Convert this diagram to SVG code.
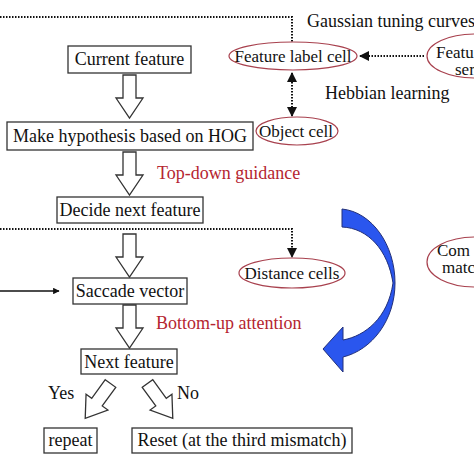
<svg xmlns="http://www.w3.org/2000/svg" width="474" height="474" viewBox="0 0 474 474">
<defs>
<style>
text{font-family:"Liberation Serif","Times New Roman",serif;font-size:18px;fill:#111}
.sm{font-size:17px}
.red{fill:#b52530}
.box{fill:#fff;stroke:#333;stroke-width:1.3}
.ell{fill:#fff;stroke:#a8414e;stroke-width:1.2}
.dot{fill:none;stroke:#111;stroke-width:2;stroke-dasharray:1.5 1.5}
.hol{fill:#fff;stroke:#333;stroke-width:1.3}
</style>
<path id="ha" d="M-6.5,0 H6.5 V23 H13.5 L0,43 L-13.5,23 H-6.5 Z"/>
<marker id="ah" viewBox="0 0 10 10" refX="9" refY="5" markerWidth="5" markerHeight="5" orient="auto-start-reverse"><path d="M0,0 L10,5 L0,10 Z" fill="#111"/></marker>
</defs>
<rect width="474" height="474" fill="#fff"/>
<g id="connectors">
<path class="dot" d="M0,17 H292 V42"/>
<path class="dot" d="M0,229 H292 V257" marker-end="url(#ah)"/>
<path class="dot" d="M424,56 H360" marker-end="url(#ah)"/>
<path class="dot" d="M292,73 V116" marker-start="url(#ah)" marker-end="url(#ah)"/>
<path d="M0,291 H59" stroke="#111" stroke-width="1.3" marker-end="url(#ah)"/>
<use href="#ha" class="hol" transform="translate(129.5,75)"/>
<use href="#ha" class="hol" transform="translate(129.5,152)"/>
<use href="#ha" class="hol" transform="translate(129.5,234)"/>
<use href="#ha" class="hol" transform="translate(129.5,305)"/>
<use href="#ha" class="hol" transform="translate(110.5,383.5) rotate(36)"/>
<use href="#ha" class="hol" transform="translate(147.5,383.5) rotate(-36)"/>
<path d="M342,209 C372,212 395,245 395,283 C395,320 372,350 343,357 L343,372 L323,349 L343,327 L343,340 C365,336 388,318 393,283 C388,250 368,228 342,227 Z" fill="#2a56ee" stroke="#22307a" stroke-width="1"/>
</g>
<g id="current-feature"><rect class="box" x="68" y="46" width="123" height="27"/><text x="129.5" y="65" text-anchor="middle">Current feature</text></g>
<g id="hypothesis"><rect class="box" x="7" y="122" width="246" height="28"/><text x="130" y="142" text-anchor="middle">Make hypothesis based on HOG</text></g>
<g id="decide"><rect class="box" x="57" y="197" width="146" height="26"/><text x="130" y="216" text-anchor="middle">Decide next feature</text></g>
<g id="saccade"><rect class="box" x="73" y="278" width="114" height="26"/><text x="130" y="297" text-anchor="middle">Saccade vector</text></g>
<g id="next-feature"><rect class="box" x="81" y="349" width="96" height="25"/><text x="129" y="368" text-anchor="middle">Next feature</text></g>
<g id="repeat"><rect class="box" x="44" y="428" width="53" height="25"/><text x="70.5" y="446" text-anchor="middle">repeat</text></g>
<g id="reset"><rect class="box" x="132" y="428" width="220" height="25"/><text x="242" y="446" text-anchor="middle">Reset (at the third mismatch)</text></g>
<g id="feature-label-cell"><ellipse class="ell" cx="293" cy="56" rx="64" ry="14"/><text class="sm" x="293" y="62" text-anchor="middle">Feature label cell</text></g>
<g id="object-cell"><ellipse class="ell" cx="297" cy="131" rx="41" ry="14"/><text class="sm" x="296" y="137" text-anchor="middle">Object cell</text></g>
<g id="distance-cells"><ellipse class="ell" cx="292" cy="273" rx="53" ry="15"/><text class="sm" x="292" y="279" text-anchor="middle">Distance cells</text></g>
<g id="feature-sensor"><ellipse class="ell" cx="475" cy="56" rx="48" ry="22"/><text class="sm" x="436" y="58">Featu</text><text class="sm" x="455" y="75">ser</text></g>
<g id="compare-match"><ellipse class="ell" cx="475" cy="262" rx="48" ry="25"/><text class="sm" x="437" y="256">Com</text><text class="sm" x="442" y="273">matc</text></g>
<g id="labels">
<text x="307" y="27">Gaussian tuning curves</text>
<text x="325" y="99">Hebbian learning</text>
<text class="red" x="157" y="179">Top-down guidance</text>
<text class="red" x="156" y="329">Bottom-up attention</text>
<text x="48" y="399">Yes</text>
<text x="177" y="399">No</text>
</g>
</svg>
